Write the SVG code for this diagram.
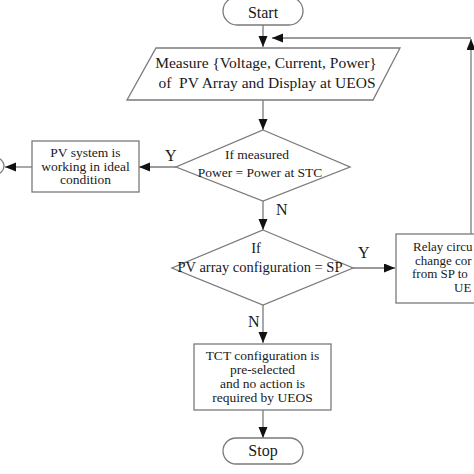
<svg xmlns="http://www.w3.org/2000/svg" width="474" height="474" viewBox="0 0 474 474">
<style>
.s{fill:#fff;stroke:#7a7a7a;stroke-width:1.3}
.c{fill:none;stroke:#7a7a7a;stroke-width:1.3}
text{font-family:"Liberation Serif","Times New Roman",serif;fill:#1a1a1a;font-size:13.5px}
.m{text-anchor:middle}
.p{font-size:15.5px}
.l{font-size:16px}
.r{font-size:13px}
.d{font-size:14.5px}
</style>
<defs>
<marker id="a" markerUnits="userSpaceOnUse" markerWidth="12" markerHeight="10" refX="11" refY="4.5" orient="auto">
<path d="M0,0 L11,4.5 L0,9 z" fill="#111"/>
</marker>
</defs>
<rect width="474" height="474" fill="#fff"/>
<g id="connectors">
<path class="c" d="M263,25 V47" marker-end="url(#a)"/>
<path class="c" d="M471,234 V39" marker-end="url(#a)"/>
<path class="c" d="M471,38 H272" marker-end="url(#a)"/>
<path class="c" d="M263,100 V130" marker-end="url(#a)"/>
<path class="c" d="M176,167 H139" marker-end="url(#a)"/>
<path class="c" d="M32,167 H5" marker-end="url(#a)"/>
<path class="c" d="M263,201 V230" marker-end="url(#a)"/>
<path class="c" d="M353,268 H395" marker-end="url(#a)"/>
<path class="c" d="M263,305 V343" marker-end="url(#a)"/>
<path class="c" d="M263,410 V438" marker-end="url(#a)"/>
<text class="l" x="165" y="161">Y</text>
<text class="l" x="276" y="215">N</text>
<text class="l" x="358" y="258">Y</text>
<text class="l" x="248" y="327">N</text>
</g>
<g id="start">
<rect class="s" x="223" y="-3" width="80" height="28" rx="14"/>
<text class="m l" x="263" y="18">Start</text>
</g>
<g id="measure">
<polygon class="s" points="156,48 400,48 373,100 127,100"/>
<text class="m p" x="266" y="68">Measure {Voltage, Current, Power}</text>
<text class="m p" x="267" y="88" xml:space="preserve">of  PV Array and Display at UEOS</text>
</g>
<g id="decision1">
<polygon class="s" points="263,130 350,167 263,201 176,167"/>
<text class="m" x="257" y="159">If measured</text>
<text class="m" x="260" y="177">Power = Power at STC</text>
</g>
<g id="ideal">
<rect class="s" x="32" y="141" width="107" height="51"/>
<text class="m" x="85.5" y="157">PV system is</text>
<text class="m" x="85.5" y="170.5">working in ideal</text>
<text class="m" x="85.5" y="184">condition</text>
</g>
<g id="connector-circle">
<circle class="s" cx="-4" cy="166" r="8"/>
</g>
<g id="decision2">
<polygon class="s" points="263,230 353,268 263,305 172,268"/>
<text class="m d" x="256" y="253">If</text>
<text class="m d" x="260" y="272">PV array configuration = SP</text>
</g>
<g id="relay">
<rect class="s" x="396" y="234" width="90" height="69"/>
<text class="r" x="413" y="251">Relay circu</text>
<text class="r" x="415" y="264.5">change cor</text>
<text class="r" x="412" y="278">from SP to</text>
<text class="r" x="454" y="292">UE</text>
</g>
<g id="tct">
<rect class="s" x="194" y="344" width="137" height="66"/>
<text class="m" x="262.5" y="360">TCT configuration is</text>
<text class="m" x="262.5" y="374">pre-selected</text>
<text class="m" x="262.5" y="388">and no action is</text>
<text class="m" x="262.5" y="402">required by UEOS</text>
</g>
<g id="stop">
<rect class="s" x="223" y="438" width="80" height="26" rx="13"/>
<text class="m l" x="263" y="456">Stop</text>
</g>
</svg>
